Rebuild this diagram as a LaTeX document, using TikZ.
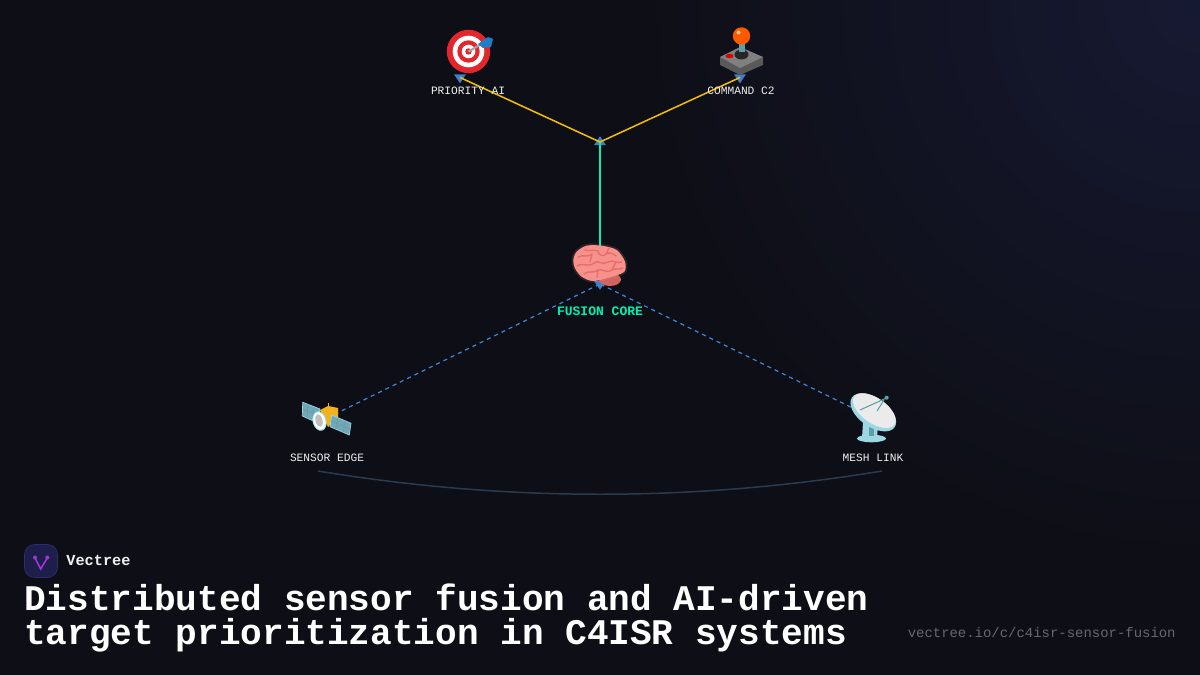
\documentclass[tikz,border=0pt]{standalone}
\usepackage{fontspec}
\setmonofont{Liberation Mono}
\usetikzlibrary{shapes.geometric, fadings}
\definecolor{bgdark}{HTML}{0E0F16}
\definecolor{bgblue}{HTML}{171A33}
\definecolor{c2yellow}{HTML}{F5C000}
\definecolor{coreteal}{HTML}{00F0B0}
\definecolor{linkblue}{HTML}{3F86D8}
\definecolor{tipblue}{HTML}{3F7FCC}
\definecolor{meshcurve}{HTML}{2A3B50}
\definecolor{labelgrey}{HTML}{F0F0F0}
\definecolor{urlgrey}{HTML}{666870}
\definecolor{logofill}{HTML}{1E1E4A}
\definecolor{logoline}{HTML}{2E2E6A}
\definecolor{logoviolet}{HTML}{A434D4}
\definecolor{brainpink}{HTML}{F8918C}
\definecolor{brainline}{HTML}{E56F6B}
\definecolor{brainback}{HTML}{D0655F}
\definecolor{dishteal}{HTML}{9CD8E4}
\definecolor{dishdark}{HTML}{5F9EA8}
\definecolor{dartblue}{HTML}{1F7DC8}
\definecolor{targetred}{HTML}{E3262B}
\definecolor{satgold}{HTML}{F2B21C}
\definecolor{panelblue}{HTML}{6FA8B8}
\tikzfading[name=cornerfade, inner color=transparent!0, outer color=transparent!100]
\tikzset{
    sensorlink/.style={linkblue, line width=0.68pt, dash pattern=on 2.3pt off 2.3pt},
    c2link/.style={c2yellow, line width=0.85pt},
    corelink/.style={coreteal, line width=0.85pt},
    tipdown/.style={isosceles triangle, isosceles triangle stretches, shape border rotate=-90,
        fill=tipblue, inner sep=0pt, minimum width=0.24cm, minimum height=0.18cm},
    tipup/.style={tipdown, shape border rotate=90},
    iconspot/.style={inner sep=0pt, minimum size=0pt},
    nodelabel/.style={labelgrey, font=\ttfamily\fontsize{6.38}{8}\selectfont, inner sep=0pt},
}

\begin{document}
\begin{tikzpicture}[x=0.02cm, y=-0.02cm]

    % Background
    \useasboundingbox (0,0) rectangle (1200,675);
    \fill[bgdark] (0,0) rectangle (1200,675);
    \begin{scope}
        \clip (0,0) rectangle (1200,675);
        \fill[bgblue, path fading=cornerfade] (1200,0) circle (560);
    \end{scope}

    % Anchors
    \coordinate (hub) at (600,142);
    \coordinate (curveL) at (318,471);
    \coordinate (curveR) at (882,471);
    \node[iconspot] (priority) at (468,52) {};
    \node[iconspot] (command) at (741,52) {};
    \node[iconspot] (fusion) at (600,265) {};
    \node[iconspot] (sensor) at (327,418) {};
    \node[iconspot] (mesh) at (873,418) {};

    % Tips
    \node[tipdown] (tipP) at (460,77.5) {};
    \node[tipdown] (tipC) at (740,77.5) {};
    \node[tipup] (tipH) at (600,142) {};
    \node[tipdown] (tipF) at (600,284) {};

    % Links
    \draw[corelink] (hub) -- (fusion);
    \draw[c2link] (hub) -- (tipP.center);
    \draw[c2link] (hub) -- (tipC.center);
    \draw[sensorlink] (sensor) -- (tipF.center);
    \draw[sensorlink] (mesh) -- (tipF.center);
    \draw[meshcurve, line width=0.85pt] (curveL) .. controls (506,502) and (694,502) .. (curveR);

    % Priority icon
    \fill[targetred] (468.5,51.5) circle (21.7);
    \fill[white] (468.5,51.5) circle (15.8);
    \fill[targetred] (468.5,51.5) circle (11.2);
    \fill[white] (468.5,51.5) circle (6.8);
    \fill[targetred] (468.5,51.5) circle (3.2);
    \draw[black!35, line width=1.2pt] (485,42) -- (468.5,51.5);
    \fill[dartblue] (478,44) -- (488,37) -- (493,39) -- (491,47) -- (483,48) -- cycle;

    % Command icon
    \fill[black!65!white] (720,57) -- (720,65) -- (740,75) -- (763,65) -- (763,57) -- cycle;
    \fill[black!50!white] (720,57) -- (740,47) -- (763,57) -- (740,68) -- cycle;
    \fill[black!85!white] (741.5,54.5) ellipse [x radius=7, y radius=5];
    \fill[dishdark] (738.5,41) rectangle (744.5,52);
    \fill[orange!70!red] (741.5,36) circle (8.7);
    \fill[orange!45!white] (738.5,32.5) circle (2);
    \fill[red!85!black] (729.5,56) ellipse [x radius=4, y radius=2.2];

    % Fusion icon
    \fill[brainback] (610,279.5) ellipse [x radius=11, y radius=6.5];
    \draw[brainpink, opacity=.15, line width=2pt, fill=brainpink] plot[smooth cycle] coordinates
        {(573.3,260) (576.7,251.7) (586.7,245.7) (601.7,245.7) (616.7,250) (625,261.7)
         (624.3,271.7) (611.7,276.7) (593.3,281) (581.7,276.7) (575,268.3)};
    \fill[brainpink] plot[smooth cycle] coordinates
        {(573.3,260) (576.7,251.7) (586.7,245.7) (601.7,245.7) (616.7,250) (625,261.7)
         (624.3,271.7) (611.7,276.7) (593.3,281) (581.7,276.7) (575,268.3)};
    \draw[brainline, line width=0.8pt, line cap=round]
        (578,257) .. controls (584,254) and (588,258) .. (592,254)
        (585,250) .. controls (590,252) and (594,249) .. (598,251)
        (598,251) .. controls (598,256) and (604,257) .. (606,254)
        (606,254) .. controls (610,252) and (612,253) .. (616,256)
        (577,266) .. controls (583,262) and (588,268) .. (594,263)
        (594,263) .. controls (598,259) and (603,266) .. (608,262)
        (608,262) .. controls (612,259) and (617,264) .. (622,262)
        (584,274) .. controls (588,270) and (594,274) .. (598,270)
        (598,270) .. controls (602,268) and (606,274) .. (612,270)
        (612,270) .. controls (616,268) and (619,270) .. (623,268)
        (592,254) -- (590,262) (606,254) -- (609,248) (598,270) -- (597,277) (612,270) -- (616,262);

    % Sensor icon
    \fill[panelblue, draw=dishteal, line width=0.4pt] (302.7,402.3) -- (320,409) -- (317.7,423) -- (302.3,416) -- cycle;
    \fill[satgold] (320,410) -- (328,406) -- (338,408) -- (338,418) -- (328,427) -- cycle;
    \fill[panelblue, draw=dishteal, line width=0.4pt] (331.7,415) -- (351,423.3) -- (349.3,435) -- (330,426.7) -- cycle;
    \draw[dishteal!70!black, line width=0.3pt] (308,404.5) -- (307,418.5) (314,407) -- (312,421)
        (302.5,409) -- (319,416) (338,417.5) -- (336,429.5) (345,420.5) -- (343.5,432.5) (331,421) -- (350,429);
    \draw[satgold, line width=0.5pt] (328,406) -- (328,403);
    \fill[white, draw=dishteal, line width=0.5pt, rotate around={15:(319.5,421)}] (319.5,421) ellipse [x radius=6.5, y radius=9.5];
    \fill[black!25!white, rotate around={15:(319,420.5)}] (319,420.5) ellipse [x radius=3.5, y radius=6.5];

    % Mesh icon
    \fill[dishteal] (871.5,438.5) ellipse [x radius=14.5, y radius=3.8];
    \fill[dishteal] (863,422) -- (878,424) -- (877,438) -- (862,438) -- cycle;
    \fill[dishdark] (869,426) rectangle (874,436);
    \fill[dishteal, rotate around={-35:(873.3,412.3)}] (873.3,412.3) ellipse [x radius=26, y radius=14.5];
    \fill[black!8!white, rotate around={-35:(874.3,410.6)}] (874.3,410.6) ellipse [x radius=24.5, y radius=12.5];
    \draw[dishdark, line width=0.6pt] (860,410) -- (886.5,398) (877,411) -- (884,400);
    \fill[dishdark] (886.7,397.7) circle (2);

    % Labels
    \node[nodelabel] (prioritylabel) at (468,91) {PRIORITY AI};
    \node[nodelabel] (commandlabel) at (741,91) {COMMAND C2};
    \node[coreteal, inner sep=0pt, font=\ttfamily\bfseries\fontsize{7.4}{9}\selectfont] (fusionlabel) at (600,311) {FUSION CORE};
    \node[nodelabel] (sensorlabel) at (327,458) {SENSOR EDGE};
    \node[nodelabel] (meshlabel) at (873,458) {MESH LINK};

    % Footer
    \node[draw=logoline, fill=logofill, rounded corners=0.2cm, minimum size=0.66cm, inner sep=0pt] (logo) at (41,561) {};
    \draw[logoviolet, line width=0.9pt] (35,558) -- (40.7,569) -- (47.3,558);
    \fill[logoviolet] (35,557.5) circle (2) (47.3,557.5) circle (2);
    \node[labelgrey, anchor=west, inner sep=0pt, font=\ttfamily\bfseries\fontsize{8.7}{10}\selectfont] (brand) at (66,560) {Vectree};
    \node[white, anchor=west, align=left, inner sep=0pt, font=\ttfamily\bfseries\fontsize{20.53}{19}\selectfont] (headline) at (24,618)
        {Distributed sensor fusion and AI-driven\\target prioritization in C4ISR systems};
    \node[urlgrey, anchor=east, inner sep=0pt, font=\ttfamily\fontsize{7.94}{10}\selectfont] (url) at (1176,632.5) {vectree.io/c/c4isr-sensor-fusion};

\end{tikzpicture}
\end{document}
